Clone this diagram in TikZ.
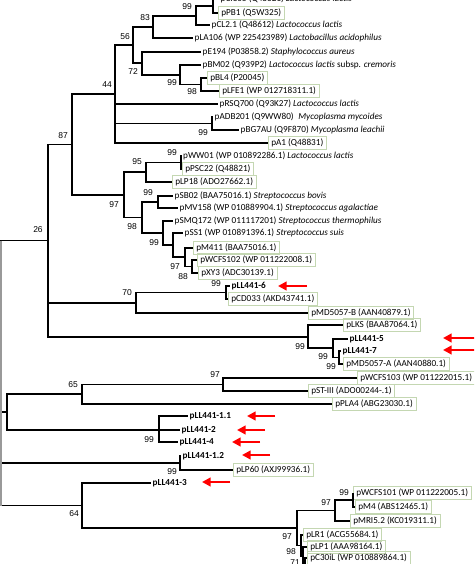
\documentclass[tikz,border=0pt]{standalone}
\usepackage{fontspec}
\setmainfont{Carlito}
\newfontfamily\bootfont{Liberation Sans}
\usetikzlibrary{arrows.meta}
\definecolor{boxgreen}{RGB}{196,215,178}
\tikzset{
  % tree
  branch/.style={line width=1.8pt},
  root-line/.style={draw=gray!80, line width=2.4pt},
  tip/.style={anchor=west, inner sep=1.5pt, font=\fontsize{9.2}{10}\selectfont},
  tip-boxed/.style={tip, draw=boxgreen, line width=0.6pt, minimum height=12.5pt, inner xsep=3pt},
  tip-new/.style={tip, font=\fontsize{9.2}{10}\selectfont\bfseries},
  boot/.style={inner sep=0pt, font=\bootfont\fontsize{8.5}{9}\selectfont},
  % markers
  red-arrow/.style={red, line width=2.6pt, -{Triangle[length=8.5pt, width=8.5pt]}}
}

\begin{document}
\begin{tikzpicture}[x=1pt, y=-1pt]
    \useasboundingbox (0,0) rectangle (474,564);
    \clip (0,0) rectangle (474,564);

    % --- Tips ---
    \node[tip] (tA) at (219,-1.5) {pCI305 (Q48621) \textit{Lactococcus lactis}};
    \node[tip-boxed] (tPB1) at (218,13) {pPB1 (Q5W325)};
    \node[tip] (tCL) at (210,25) {pCL2.1 (Q48612) \textit{Lactococcus lactis}};
    \node[tip] (tLA) at (193,38) {pLA106 (WP 225423989) \textit{Lactobacillus acidophilus}};
    \node[tip] (tE194) at (201,52) {pE194 (P03858.2) \textit{Staphylococcus aureus}};
    \node[tip] (tBM02) at (201,65) {pBM02 (Q939P2) \textit{Lactococcus lactis} subsp. \textit{cremoris}};
    \node[tip-boxed] (tBL4) at (207,78) {pBL4 (P20045)};
    \node[tip-boxed] (tLFE1) at (219,91) {pLFE1 (WP 012718311.1)};
    \node[tip] (tRSQ) at (218,104) {pRSQ700 (Q93K27) \textit{Lactococcus lactis}};
    \node[tip] (tADB) at (213,117) {pADB201 (Q9WW80)\enspace\textit{Mycoplasma mycoides}};
    \node[tip] (tBG) at (239,130) {pBG7AU (Q9F870) \textit{Mycoplasma leachii}};
    \node[tip-boxed] (tA1) at (268,143) {pA1 (Q48831)};
    \node[tip] (tWW01) at (181.5,156) {pWW01 (WP 010892286.1) \textit{Lactococcus lactis}};
    \node[tip-boxed] (tPSC22) at (182,169) {pPSC22 (Q48821)};
    \node[tip-boxed] (tLP18) at (172,182) {pLP18 (ADO27662.1)};
    \node[tip] (tSB02) at (173,196) {pSB02 (BAA75016.1) \textit{Streptococcus bovis}};
    \node[tip] (tMV158) at (178,208) {pMV158 (WP 010889904.1) \textit{Streptococcus agalactiae}};
    \node[tip] (tSMQ) at (173,221) {pSMQ172 (WP 011117201) \textit{Streptococcus thermophilus}};
    \node[tip] (tSS1) at (183,233) {pSS1 (WP 010891396.1) \textit{Streptococcus suis}};
    \node[tip-boxed] (tM411) at (193,248) {pM411 (BAA75016.1)};
    \node[tip-boxed] (tWCFS102) at (197,260) {pWCFS102 (WP 011222008.1)};
    \node[tip-boxed] (tXY3) at (198,273) {pXY3 (ADC30139.1)};
    \node[tip-new] (tLL6) at (230,286) {pLL441-6};
    \node[tip-boxed] (tCD033) at (228,299) {pCD033 (AKD43741.1)};
    \node[tip-boxed] (tMDB) at (308,313) {pMD5057-B (AAN40879.1)};
    \node[tip-boxed] (tLKS) at (343,325) {pLKS (BAA87064.1)};
    \node[tip-new] (tLL5) at (348,339) {pLL441-5};
    \node[tip-new] (tLL7) at (341,351) {pLL441-7};
    \node[tip-boxed] (tMDA) at (343,364) {pMD5057-A (AAN40880.1)};
    \node[tip-boxed] (tWCFS103) at (357,378) {pWCFS103 (WP 011222015.1)};
    \node[tip-boxed] (tST3) at (308,391) {pST-III (ADO00244-.1)};
    \node[tip-boxed] (tPLA4) at (332,404) {pPLA4 (ABG23030.1)};
    \node[tip-new] (tLL11) at (188,416) {pLL441-1.1};
    \node[tip-new] (tLL2) at (180,430) {pLL441-2};
    \node[tip-new] (tLL4) at (178,442) {pLL441-4};
    \node[tip-new] (tLL12) at (181,456) {pLL441-1.2};
    \node[tip-boxed] (tLP60) at (233,470) {pLP60 (AXJ99936.1)};
    \node[tip-new] (tLL3) at (151,483) {pLL441-3};
    \node[tip-boxed] (tWCFS101) at (353,493) {pWCFS101 (WP 011222005.1)};
    \node[tip-boxed] (tM4) at (355,507) {pM4 (ABS12465.1)};
    \node[tip-boxed] (tMRI) at (350,521) {pMRI5.2 (KC019311.1)};
    \node[tip-boxed] (tLR1) at (303,535) {pLR1 (ACG55684.1)};
    \node[tip-boxed] (tLP1) at (307,547) {pLP1 (AAA98164.1)};
    \node[tip-boxed] (tC30) at (307,558) {pC30iL (WP 010889864.1)};
    \coordinate (tOut) at (308,572);

    % --- Inner nodes ---
    \coordinate (nX) at (213,6);
    \coordinate (n99a) at (196,16);
    \coordinate (n83) at (153,27);
    \coordinate (n98b) at (201,84.5);
    \coordinate (n99b) at (180,74.75);
    \coordinate (n72) at (142,63.4);
    \coordinate (n56) at (133,45.2);
    \coordinate (n99c) at (212,123.5);
    \coordinate (n44) at (115,94);
    \coordinate (n99d) at (181,162.5);
    \coordinate (n95) at (146,172.25);
    \coordinate (n99e) at (158,202);
    \coordinate (n88) at (192,266.5);
    \coordinate (n97b) at (185,257.25);
    \coordinate (nY) at (173,245);
    \coordinate (n99f) at (163,233);
    \coordinate (n98c) at (142,217.5);
    \coordinate (n97a) at (124,194.9);
    \coordinate (n87) at (72,144.5);
    \coordinate (n99g) at (226,292.5);
    \coordinate (n70) at (136,302.75);
    \coordinate (n99j) at (339,357.5);
    \coordinate (n99i) at (333,348.25);
    \coordinate (n99h) at (308,336.6);
    \coordinate (n26) at (48,240.5);
    \coordinate (n97k) at (223,384.5);
    \coordinate (n65) at (82,394.25);
    \coordinate (n99k) at (159,430);
    \coordinate (nP) at (7,412);
    \coordinate (n99l) at (180,463);
    \coordinate (n99m) at (353,500);
    \coordinate (n97n) at (335,510.5);
    \coordinate (n71) at (305,565);
    \coordinate (n98d) at (303,556);
    \coordinate (n97p) at (301,545.5);
    \coordinate (n97m) at (297,528);
    \coordinate (n64) at (82,505.5);
    \coordinate (root) at (1,372);

    % --- Branches ---
    \draw[branch] (nX) |- (tA.west);
    \draw[branch] (nX) |- (tPB1.west);
    \draw[branch] (n99a) |- (nX);
    \draw[branch] (n99a) |- (tCL.west);
    \draw[branch] (n83) |- (n99a);
    \draw[branch] (n83) |- (tLA.west);
    \draw[branch] (n98b) |- (tBL4.west);
    \draw[branch] (n98b) |- (tLFE1.west);
    \draw[branch] (n99b) |- (tBM02.west);
    \draw[branch] (n99b) |- (n98b);
    \draw[branch] (n72) |- (tE194.west);
    \draw[branch] (n72) |- (n99b);
    \draw[branch] (n56) |- (n83);
    \draw[branch] (n56) |- (n72);
    \draw[branch] (n99c) |- (tADB.west);
    \draw[branch] (n99c) |- (tBG.west);
    \draw[branch] (n44) |- (n56);
    \draw[branch] (n44) |- (tRSQ.west);
    \draw[branch] (n44) |- (n99c);
    \draw[branch] (n44) |- (tA1.west);
    \draw[branch] (n99d) |- (tWW01.west);
    \draw[branch] (n99d) |- (tPSC22.west);
    \draw[branch] (n95) |- (n99d);
    \draw[branch] (n95) |- (tLP18.west);
    \draw[branch] (n99e) |- (tSB02.west);
    \draw[branch] (n99e) |- (tMV158.west);
    \draw[branch] (n88) |- (tWCFS102.west);
    \draw[branch] (n88) |- (tXY3.west);
    \draw[branch] (n97b) |- (tM411.west);
    \draw[branch] (n97b) |- (n88);
    \draw[branch] (nY) |- (tSS1.west);
    \draw[branch] (nY) |- (n97b);
    \draw[branch] (n99f) |- (tSMQ.west);
    \draw[branch] (n99f) |- (nY);
    \draw[branch] (n98c) |- (n99e);
    \draw[branch] (n98c) |- (n99f);
    \draw[branch] (n97a) |- (n95);
    \draw[branch] (n97a) |- (n98c);
    \draw[branch] (n87) |- (n44);
    \draw[branch] (n87) |- (n97a);
    \draw[branch] (n99g) |- (tLL6.west);
    \draw[branch] (n99g) |- (tCD033.west);
    \draw[branch] (n70) |- (n99g);
    \draw[branch] (n70) |- (tMDB.west);
    \draw[branch] (n99j) |- (tLL7.west);
    \draw[branch] (n99j) |- (tMDA.west);
    \draw[branch] (n99i) |- (tLL5.west);
    \draw[branch] (n99i) |- (n99j);
    \draw[branch] (n99h) |- (tLKS.west);
    \draw[branch] (n99h) |- (n99i);
    \draw[branch] (n26) |- (n87);
    \draw[branch] (n26) |- (n70);
    \draw[branch] (n26) |- (n99h);
    \draw[branch] (n97k) |- (tWCFS103.west);
    \draw[branch] (n97k) |- (tST3.west);
    \draw[branch] (n65) |- (n97k);
    \draw[branch] (n65) |- (tPLA4.west);
    \draw[branch] (n99k) |- (tLL11.west);
    \draw[branch] (n99k) |- (tLL2.west);
    \draw[branch] (n99k) |- (tLL4.west);
    \draw[branch] (nP) |- (n65);
    \draw[branch] (nP) |- (n99k);
    \draw[branch] (n99l) |- (tLL12.west);
    \draw[branch] (n99l) |- (tLP60.west);
    \draw[branch] (n99m) |- (tWCFS101.west);
    \draw[branch] (n99m) |- (tM4.west);
    \draw[branch] (n97n) |- (n99m);
    \draw[branch] (n97n) |- (tMRI.west);
    \draw[branch] (n71) |- (tC30.west);
    \draw[branch] (n71) |- (tOut);
    \draw[branch] (n98d) |- (tLP1.west);
    \draw[branch] (n98d) |- (n71);
    \draw[branch] (n97p) |- (tLR1.west);
    \draw[branch] (n97p) |- (n98d);
    \draw[branch] (n97m) |- (n97n);
    \draw[branch] (n97m) |- (n97p);
    \draw[branch] (n64) |- (tLL3.west);
    \draw[branch] (n64) |- (n97m);
    \draw[branch] (root) |- (n26);
    \draw[branch] (root) |- (nP);
    \draw[branch] (root) |- (n99l);
    \draw[branch] (root) |- (n64);
    \draw[root-line] (root |- n26) -- (root |- n64);

    % --- Bootstrap values ---
    \node[boot] (b99a) at (187,7) {99};
    \node[boot] (b83) at (145,18) {83};
    \node[boot] (b56) at (125,37) {56};
    \node[boot] (b72) at (133,72) {72};
    \node[boot] (b99b) at (172,83) {99};
    \node[boot] (b98b) at (192,92) {98};
    \node[boot] (b44) at (107,85) {44};
    \node[boot] (b99c) at (203,133) {99};
    \node[boot] (b87) at (63,136) {87};
    \node[boot] (b26) at (38,230) {26};
    \node[boot] (b95) at (137,162) {95};
    \node[boot] (b99d) at (172,153) {99};
    \node[boot] (b97a) at (114,205) {97};
    \node[boot] (b99e) at (148,193) {99};
    \node[boot] (b98c) at (132,227) {98};
    \node[boot] (b99f) at (154,243) {99};
    \node[boot] (b97b) at (175,267) {97};
    \node[boot] (b88) at (183,277) {88};
    \node[boot] (b70) at (127,293) {70};
    \node[boot] (b99g) at (216,284) {99};
    \node[boot] (b99h) at (300,347) {99};
    \node[boot] (b99i) at (323,357) {99};
    \node[boot] (b99j) at (331,367) {99};
    \node[boot] (b65) at (73,385) {65};
    \node[boot] (b97k) at (215,375) {97};
    \node[boot] (b99k) at (149,440) {99};
    \node[boot] (b99l) at (172,472) {99};
    \node[boot] (b64) at (74,514) {64};
    \node[boot] (b99m) at (344,493) {99};
    \node[boot] (b97n) at (326,503) {97};
    \node[boot] (b97p) at (287,537) {97};
    \node[boot] (b98d) at (291,552) {98};
    \node[boot] (b71) at (295,563) {71};

    % --- Red arrows to the new plasmids ---
    \coordinate (a6s) at (307,286);   \coordinate (a6e) at (278,286);
    \coordinate (a5s) at (476,338);   \coordinate (a5e) at (443,338);
    \coordinate (a7s) at (476,350);   \coordinate (a7e) at (443,350);
    \coordinate (a11s) at (275,416);  \coordinate (a11e) at (247,416);
    \coordinate (a2s) at (265,430);   \coordinate (a2e) at (237,430);
    \coordinate (a4s) at (260,442);   \coordinate (a4e) at (232,442);
    \coordinate (a12s) at (270,455);  \coordinate (a12e) at (242,455);
    \coordinate (a3s) at (230,482);   \coordinate (a3e) at (202,482);
    \draw[red-arrow] (a6s) -- (a6e);
    \draw[red-arrow] (a5s) -- (a5e);
    \draw[red-arrow] (a7s) -- (a7e);
    \draw[red-arrow] (a11s) -- (a11e);
    \draw[red-arrow] (a2s) -- (a2e);
    \draw[red-arrow] (a4s) -- (a4e);
    \draw[red-arrow] (a12s) -- (a12e);
    \draw[red-arrow] (a3s) -- (a3e);
\end{tikzpicture}
\end{document}
